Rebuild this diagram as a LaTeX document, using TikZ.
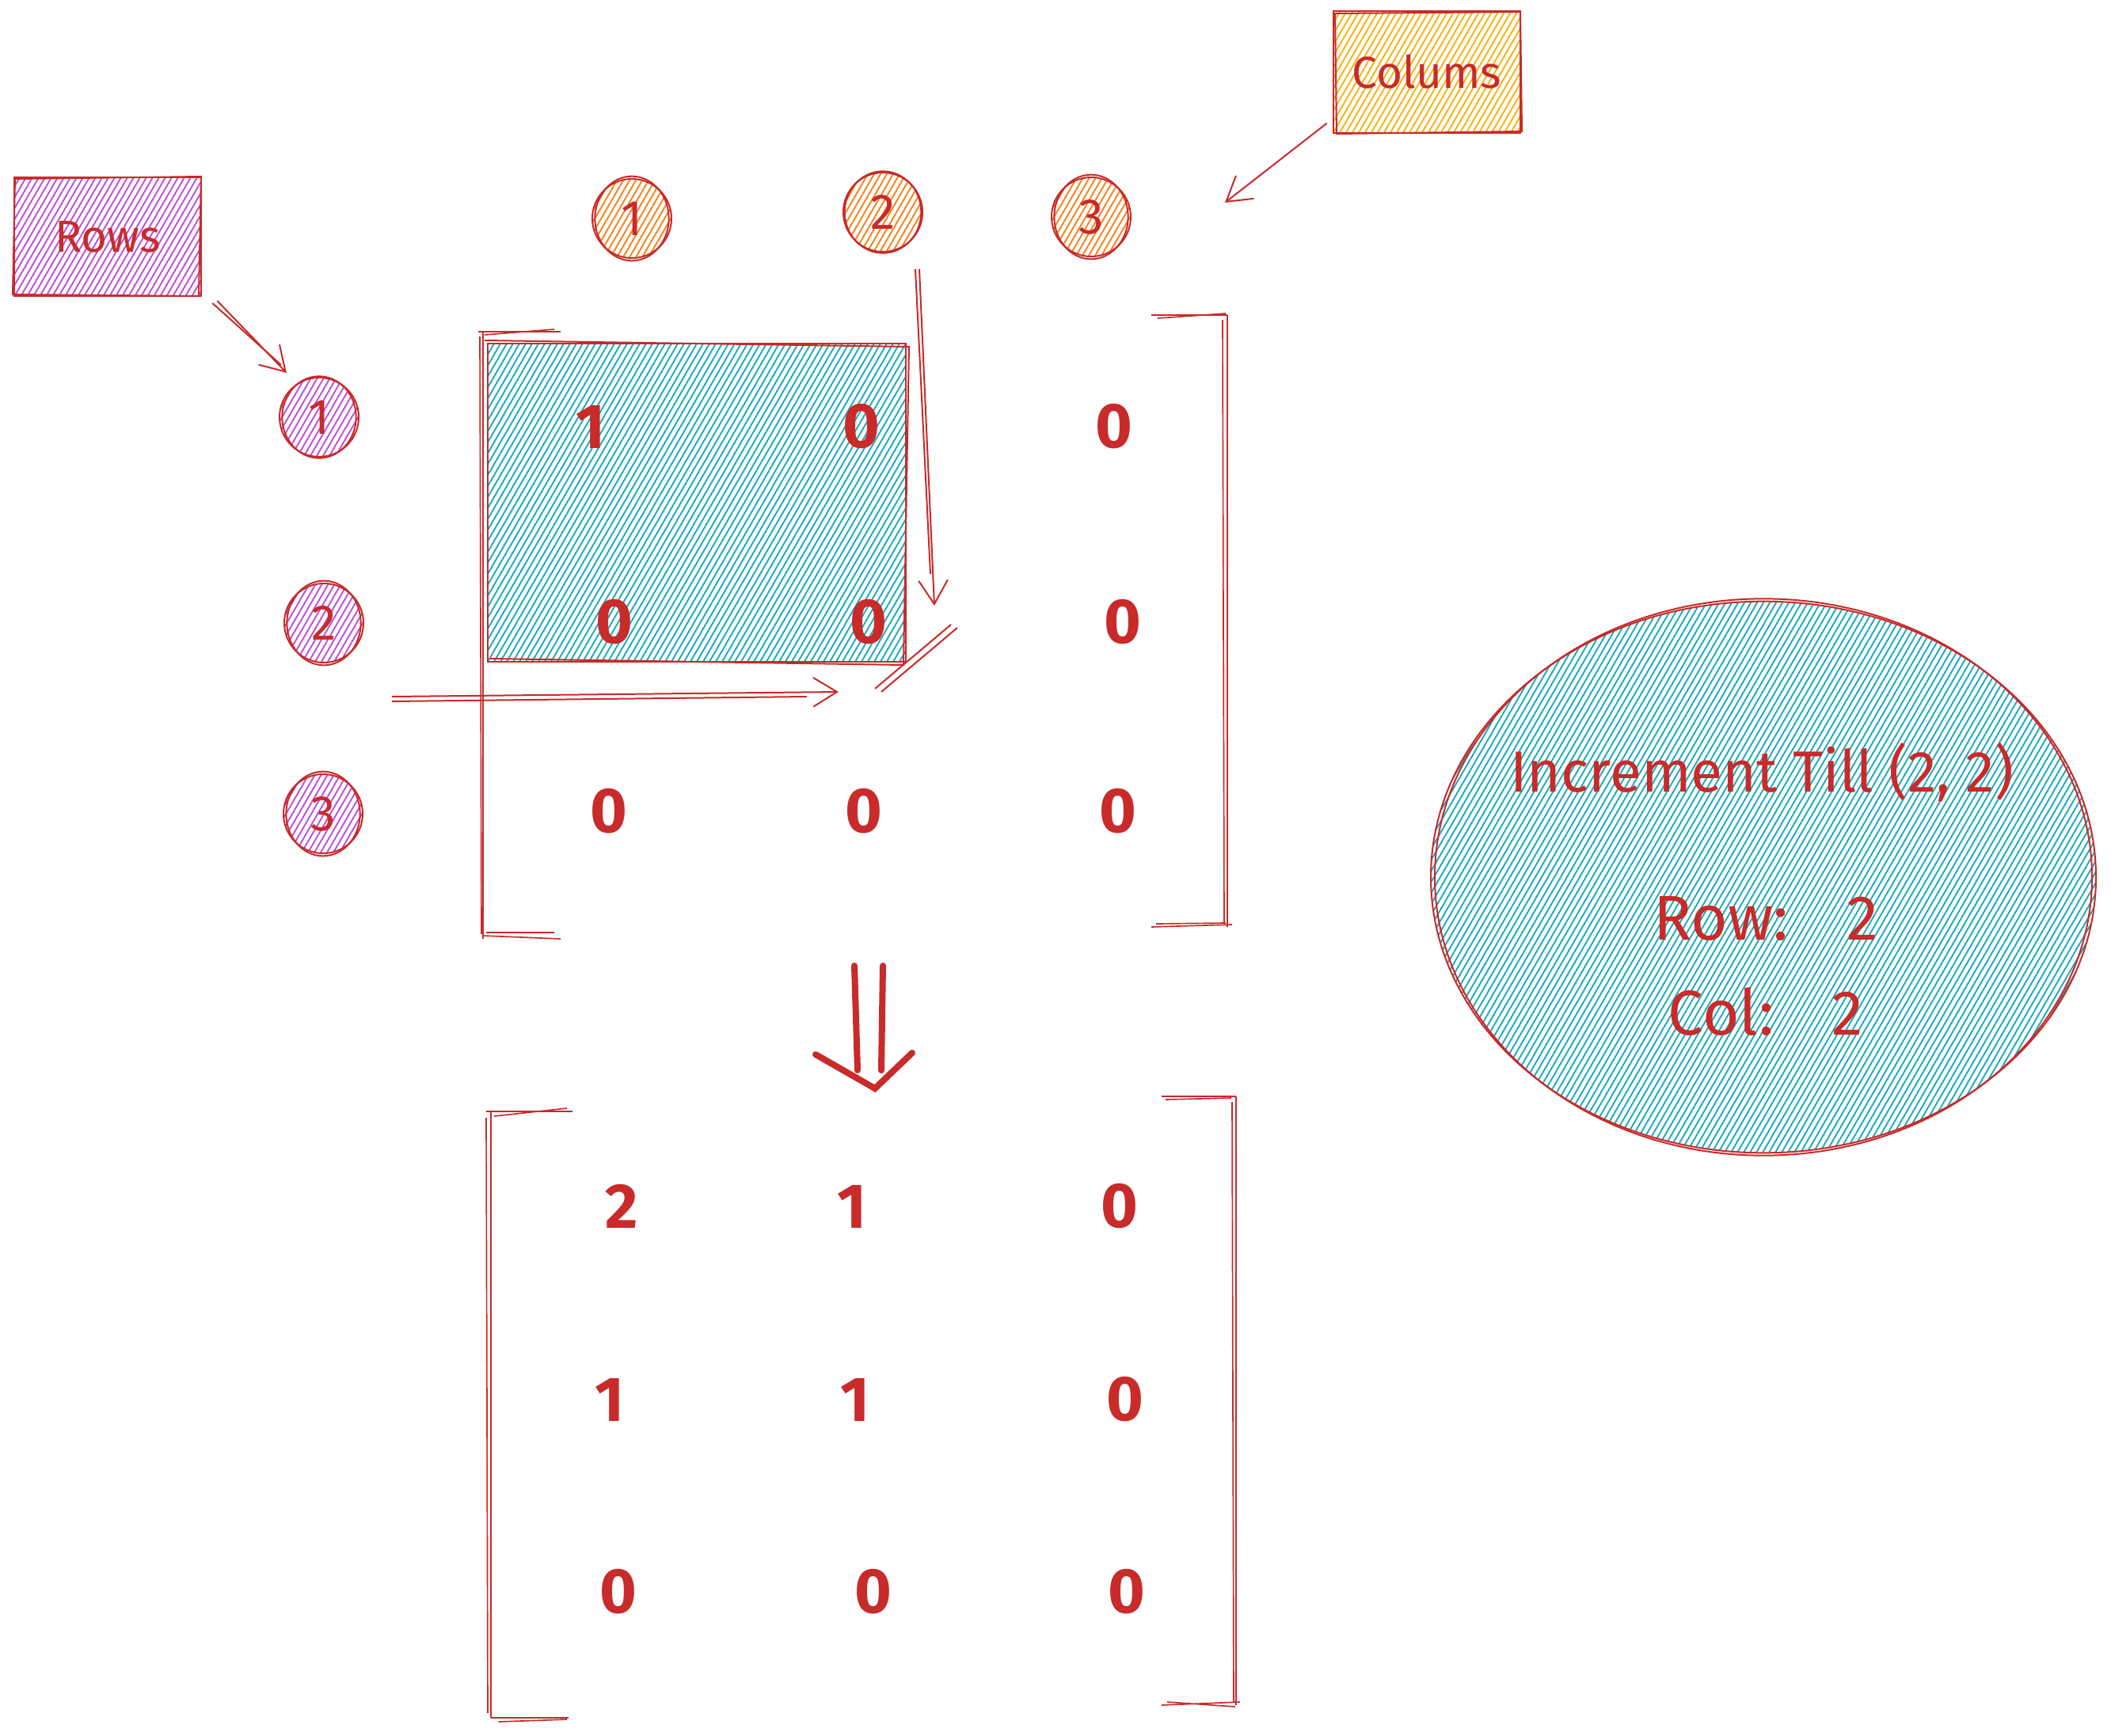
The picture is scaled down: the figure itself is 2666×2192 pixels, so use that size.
\documentclass[tikz,border=0pt]{standalone}
\usepackage{fontspec}
\setmainfont{Fira Sans}
\usetikzlibrary{arrows.meta,shapes.geometric}
\definecolor{inkred}{HTML}{C92A2A}
\definecolor{hcyan}{HTML}{15AABF}
\definecolor{hpurple}{HTML}{BE4BDB}
\definecolor{horange}{HTML}{FD7E14}
\definecolor{hyellow}{HTML}{FAB005}
% hatch lines at 60 degrees inside the current clip: colour, xmin, ymin, xmax, ymax
\newcommand\hatchin[5]{%
  \pgfmathsetmacro\hya{#3}%
  \pgfmathsetmacro\hyb{#5}%
  \pgfmathsetmacro\hxe{#4}%
  \pgfmathsetmacro\hh{(\hyb-\hya)/1.732}%
  \pgfmathsetmacro\hxa{(#2)-\hh}%
  \pgfmathsetmacro\hxb{\hxa+8}%
  \pgfmathsetmacro\hdy{\hya-\hyb}%
  \foreach \xx in {\hxa,\hxb,...,\hxe}{\draw[draw=#1,line width=0.55pt] (\xx,\hyb) -- ++(\hh,\hdy);}%
}
\begin{document}
\begin{tikzpicture}[x=0.3pt,y=-0.3pt,
  ink/.style={draw=inkred,line width=0.6pt},
  labelbox/.style={rectangle,ink,minimum width=71pt,minimum height=45pt,text=inkred,font=\fontsize{17}{20}\selectfont},
  idx/.style={circle,ink,minimum size=30pt,inner sep=0pt,text=inkred,font=\fontsize{19}{22}\selectfont},
  val/.style={text=inkred,font=\bfseries\fontsize{24}{28}\selectfont,inner sep=0pt},
  infotext/.style={text=inkred,font=\fontsize{#1}{#1}\selectfont,inner sep=0pt},
  arr/.style={draw=inkred,line width=0.6pt,-{Straight Barb[length=9pt,width=11pt,line width=0.6pt]}},
  bracket/.style={draw=inkred,line width=0.5pt},
  fat/.style={draw=inkred,line width=2.4pt,line cap=round}
]
\useasboundingbox (0,0) rectangle (2666,2192);

% ---- hatch fills ----
\begin{scope}\clip (17,224) rectangle (255,374); \hatchin{hpurple}{17}{224}{255}{374}\end{scope}
\begin{scope}\clip (1684,15) rectangle (1920,168); \hatchin{hyellow}{1684}{15}{1920}{168}\end{scope}
\foreach \cx/\cy in {798/276,1115/268,1378/274}{
  \begin{scope}\clip (\cx,\cy) circle [radius=15pt]; \hatchin{horange}{\cx-55}{\cy-55}{\cx+55}{\cy+55}\end{scope}}
\foreach \cx/\cy in {403/527,409/787,408/1028}{
  \begin{scope}\clip (\cx,\cy) circle [radius=15pt]; \hatchin{hpurple}{\cx-55}{\cy-55}{\cx+55}{\cy+55}\end{scope}}
\begin{scope}\clip (616,434) rectangle (1144,836); \hatchin{hcyan}{616}{434}{1144}{836}\end{scope}
\begin{scope}\clip (2227,1108) ellipse [x radius=126pt, y radius=104.5pt]; \hatchin{hcyan}{1805}{758}{2648}{1458}\end{scope}

% label boxes
\node[labelbox] (rows) at (136,299) {Rows};
\draw[ink] (19,226) -- (254,223) -- (251,374) -- (16,372) -- cycle;
\node[labelbox,minimum height=46pt] (cols) at (1802,91) {Colums};
\draw[ink] (1686,17) -- (1920,15) -- (1922,166) -- (1688,169) -- cycle;

% column indices
\node[idx] (c1) at (798,276) {1};
\node[idx] (c2) at (1115,268) {2};
\node[idx] (c3) at (1378,274) {3};
\draw[ink] (c1) ellipse [x radius=14pt, y radius=16pt];
\draw[ink] (c2) ellipse [x radius=14.5pt, y radius=15.5pt];
\draw[ink] (c3) ellipse [x radius=14pt, y radius=16pt];

% row indices
\node[idx] (r1) at (403,527) {1};
\node[idx] (r2) at (409,787) {2};
\node[idx] (r3) at (408,1028) {3};
\draw[ink] (r1) ellipse [x radius=14pt, y radius=15.5pt];
\draw[ink] (r2) ellipse [x radius=14pt, y radius=16pt];
\draw[ink] (r3) ellipse [x radius=14pt, y radius=16pt];

% arrows from label boxes
\draw[arr] ([shift={(19,5)}]rows.south east) -- ([shift={(-5,-20)}]r1.north west);
\draw[ink] ([shift={(13,8)}]rows.south east) -- ([shift={(-12,-30)}]r1.north west);
\coordinate (ctip) at ([shift={(118,-18)}]c3.east);
\draw[arr] ([shift={(-7,-13)}]cols.south west) -- (ctip);

% selected block outline
\draw[ink] (616,434) rectangle (1144,836);
\draw[ink] (612,430) -- (1148,438) -- (1141,840) -- (619,832);

% top matrix brackets
\draw[bracket] (610,419) -- (610,1186) (606,425) -- (608,1180);
\draw[bracket] (604,419) -- (708,419) (612,423) -- (700,416);
\draw[bracket] (610,1182) -- (708,1186) (614,1178) -- (700,1178);
\draw[bracket] (1550,398) -- (1550,1171) (1544,404) -- (1546,1166);
\draw[bracket] (1454,398) -- (1550,398) (1462,402) -- (1548,396);
\draw[bracket] (1454,1171) -- (1556,1168) (1460,1167) -- (1548,1166);

% top matrix values
\node[val] (a11) at (746,539) {1};
\node[val] (a12) at (1088,539) {0};
\node[val] (a13) at (1407,539) {0};
\node[val] (a21) at (776,786) {0};
\node[val] (a22) at (1097,786) {0};
\node[val] (a23) at (1418,786) {0};
\node[val] (a31) at (769,1025) {0};
\node[val] (a32) at (1091,1025) {0};
\node[val] (a33) at (1412,1025) {0};

% traversal arrows
\coordinate (vstart) at ([shift={(46,21)}]c2.south);
\coordinate (vend) at (1180,765);
\draw[arr] (vstart) -- (vend);
\draw[ink] ([shift={(-5,0)}]vstart) -- ([shift={(-5,-40)}]vend);
\coordinate (hstart) at ([shift={(35,93)}]r2.east);
\coordinate (hend) at (1059,874);
\draw[arr] (hstart) -- (hend);
\draw[ink] ([shift={(0,6)}]hstart) -- ([shift={(-40,6)}]hend);
\coordinate (d1) at (1113,874);
\coordinate (d2) at (1209,793);
\draw[ink] (d1) -- (d2);
\draw[ink] ([shift={(-8,-4)}]d1) -- ([shift={(-8,-4)}]d2);

% big down arrow
\coordinate (topmat) at (1097,1220);
\coordinate (botmat) at (1105,1375);
\draw[fat] ([shift={(-18,0)}]topmat) -- (1083,1352);
\draw[fat] ([shift={(18,0)}]topmat) -- (1113,1352);
\draw[fat] (1030,1332) -- (botmat) -- (1152,1330);

% bottom matrix brackets
\draw[bracket] (620,1404) -- (620,2170) (614,1412) -- (616,2164);
\draw[bracket] (614,1404) -- (723,1404) (624,1410) -- (716,1400);
\draw[bracket] (620,2170) -- (718,2170) (630,2175) -- (716,2172);
\draw[bracket] (1561,1385) -- (1561,2154) (1556,1392) -- (1558,2150);
\draw[bracket] (1467,1385) -- (1561,1385) (1472,1389) -- (1555,1387);
\draw[bracket] (1467,2154) -- (1566,2150) (1474,2150) -- (1560,2156);

% bottom matrix values
\node[val] (b11) at (785,1524) {2};
\node[val] (b12) at (1076,1524) {1};
\node[val] (b13) at (1414,1524) {0};
\node[val] (b21) at (770,1768) {1};
\node[val] (b22) at (1080,1768) {1};
\node[val] (b23) at (1421,1768) {0};
\node[val] (b31) at (781,2011) {0};
\node[val] (b32) at (1103,2011) {0};
\node[val] (b33) at (1423,2011) {0};

% info ellipse
\node[ellipse,ink,minimum width=252pt,minimum height=209pt,inner sep=0pt] (info) at (2227,1108) {};
\draw[ink] (info) ellipse [x radius=124.5pt, y radius=105.5pt];
\node[infotext=22] (inc) at (2225,976) {Increment Till (2, 2)};
\node[infotext=24] (rowt) at (2230,1160) {Row:\hspace{22pt}2};
\node[infotext=24] (colt) at (2230,1278) {Col:\hspace{22pt}2};
\end{tikzpicture}
\end{document}
